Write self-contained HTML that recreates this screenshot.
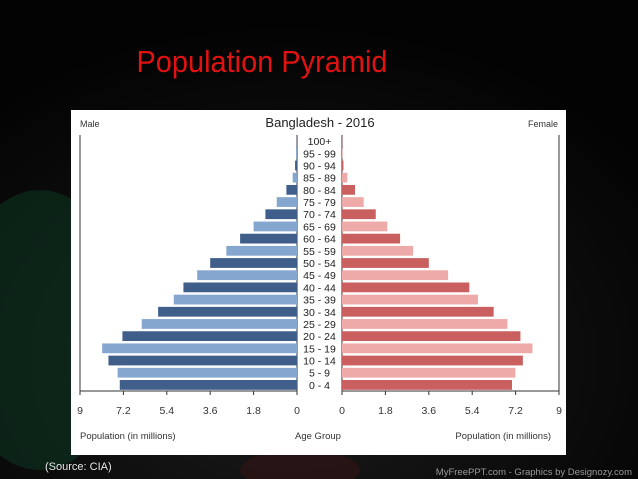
<!DOCTYPE html>
<html><head><meta charset="utf-8"><style>
html,body{margin:0;padding:0;background:#050505;}
svg{display:block;font-family:"Liberation Sans","DejaVu Sans",sans-serif;}
</style></head><body>
<svg id="chart" width="638" height="479" viewBox="0 0 638 479">
<defs>
<radialGradient id="bg" cx="0.45" cy="0.75" r="0.7">
<stop offset="0" stop-color="#1c1c1c"/><stop offset="1" stop-color="#030303"/>
</radialGradient>
</defs>
<rect width="638" height="479" fill="url(#bg)"/>
<ellipse cx="40" cy="330" rx="90" ry="140" fill="#0b3a24" opacity="0.5"/>
<ellipse cx="300" cy="470" rx="60" ry="20" fill="#3a1414" opacity="0.5"/>
<text x="262" y="72" font-size="31" fill="#e31212" text-anchor="middle" textLength="251" lengthAdjust="spacingAndGlyphs">Population Pyramid</text>
<rect x="71" y="110" width="495" height="345" fill="#ffffff"/>
<text x="80" y="127" font-size="9" fill="#333">Male</text>
<text x="320" y="127" font-size="13" fill="#222" text-anchor="middle">Bangladesh - 2016</text>
<text x="558" y="127" font-size="9" fill="#333" text-anchor="end">Female</text>
<g id="plot"></g>
<text x="80" y="439" font-size="9.5" fill="#333">Population (in millions)</text>
<text x="318" y="439" font-size="9.5" fill="#333" text-anchor="middle">Age Group</text>
<text x="551" y="439" font-size="9.5" fill="#333" text-anchor="end">Population (in millions)</text>
<text x="45" y="470" font-size="11" fill="#e8e8e8">(Source: CIA)</text>
<text x="632" y="475" font-size="9.5" fill="#999" text-anchor="end">MyFreePPT.com - Graphics by Designozy.com</text>
</svg>
<script>
const ageGroups = ["0 - 4","5 - 9","10 - 14","15 - 19","20 - 24","25 - 29","30 - 34","35 - 39","40 - 44","45 - 49","50 - 54","55 - 59","60 - 64","65 - 69","70 - 74","75 - 79","80 - 84","85 - 89","90 - 94","95 - 99","100+"];
const maleValues = [7.35,7.44,7.82,8.08,7.24,6.44,5.76,5.11,4.71,4.14,3.60,2.93,2.36,1.80,1.31,0.84,0.44,0.18,0.08,0.04,0.01];
const femaleValues = [7.05,7.19,7.50,7.90,7.40,6.86,6.29,5.64,5.28,4.40,3.60,2.95,2.41,1.88,1.40,0.90,0.54,0.22,0.06,0.03,0.01];
const tickValues = [0,1.8,3.6,5.4,7.2,9];
const tickLabels = ["0","1.8","3.6","5.4","7.2","9"];

const NS = "http://www.w3.org/2000/svg";
const plotG = document.getElementById('plot');
const maxV = 9, leftZero = 297, leftMax = 80, rightZero = 342, rightMax = 559;
const plotTop = 135, plotBottom = 391;
const rowH = (plotBottom - plotTop) / ageGroups.length;
function xMale(v){ return leftZero - (leftZero - leftMax) * v / maxV; }
function xFemale(v){ return rightZero + (rightMax - rightZero) * v / maxV; }
function yRow(i){ return plotBottom - (i + 1) * rowH; }
function mk(tag, attrs){ const e = document.createElementNS(NS, tag); for (const k in attrs) e.setAttribute(k, attrs[k]); plotG.appendChild(e); return e; }

const fm = mk('path', {d:`M${leftMax},${plotTop} V${plotBottom} H${leftZero} V${plotTop}`, fill:'none', stroke:'#333', 'stroke-width':1});


const ff = mk('path', {d:`M${rightZero},${plotTop} V${plotBottom} H${rightMax} V${plotTop}`, fill:'none', stroke:'#333', 'stroke-width':1});



ageGroups.forEach((a, i) => {
  const y = yRow(i) + 1.2, h = rowH - 2.4;
  const dark = i % 2 === 0;
  const mb = mk('rect', {x: xMale(maleValues[i]), y: y, width: leftZero - xMale(maleValues[i]), height: h, fill: dark ? '#3f5f8a' : '#85a7cf'});
  
  
  const fb = mk('rect', {x: rightZero, y: y, width: xFemale(femaleValues[i]) - rightZero, height: h, fill: dark ? '#c9605f' : '#eeaaa9'});
  
  
  const t = mk('text', {x: 319.5, y: yRow(i) + rowH / 2 + 4, 'font-size': 10.5, fill: '#222', 'text-anchor': 'middle'});
  t.textContent = a;
  
  
});

tickValues.forEach((v, i) => {
  [[xMale(v), 'male'], [xFemale(v), 'female']].forEach(([x, side]) => {
    const tk = mk('line', {x1: x, y1: plotBottom, x2: x, y2: plotBottom + 4, stroke: '#333'});
    
    
    const tl = mk('text', {x: x, y: 414, 'font-size': 10.5, fill: '#333', 'text-anchor': 'middle'});
    tl.textContent = tickLabels[i];
    
    
  });
});
</script>
</body></html>
